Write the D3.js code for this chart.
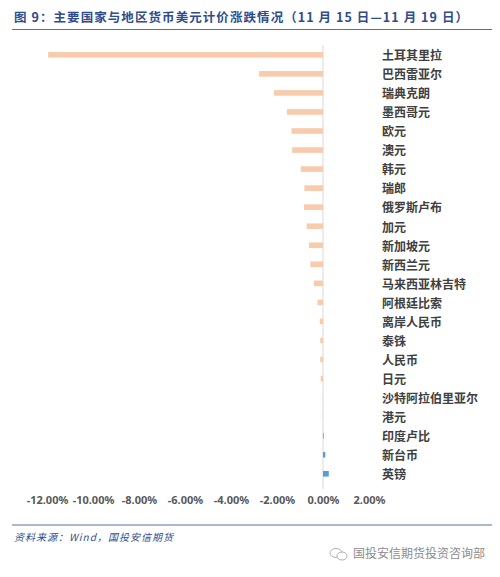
<!DOCTYPE html>
<html>
<head>
<meta charset="utf-8">
<script src="https://cdn.jsdelivr.net/npm/d3@7"></script>
<style>
    body { margin: 0; background: #fff; }
    svg { display: block; font-family: "Noto Sans CJK SC", "Noto Sans", sans-serif; }
</style>
</head>
<body>
<div class="E"></div>
<script>
// 币种（从上到下）
var currencies = ["土耳其里拉", "巴西雷亚尔", "瑞典克朗", "墨西哥元", "欧元", "澳元", "韩元", "瑞郎",
    "俄罗斯卢布", "加元", "新加坡元", "新西兰元", "马来西亚林吉特", "阿根廷比索", "离岸人民币",
    "泰铢", "人民币", "日元", "沙特阿拉伯里亚尔", "港元", "印度卢比", "新台币", "英镑"];
// 涨跌幅 %
var changes = [-11.95, -2.78, -2.13, -1.57, -1.37, -1.34, -0.97, -0.81,
    -0.83, -0.71, -0.61, -0.55, -0.40, -0.24, -0.14,
    -0.12, -0.12, -0.10, -0.01, -0.01, 0.03, 0.10, 0.25];
var tickValues = [-12, -10, -8, -6, -4, -2, 0, 2];

var width = 500, height = 577;
var svg = d3.select(".E").append("svg").attr("width", width).attr("height", height);

// 标题
svg.append("text").attr("x", 14).attr("y", 22)
    .attr("fill", "#2F4C8C").style("font-size", "12.5px").style("font-weight", "bold")
    .attr("textLength", 454).attr("lengthAdjust", "spacing")
    .text("图 9：主要国家与地区货币美元计价涨跌情况（11 月 15 日—11 月 19 日）");
svg.append("line").attr("x1", 12).attr("x2", 492).attr("y1", 29.5).attr("y2", 29.5)
    .attr("stroke", "#5A6E9E").attr("stroke-width", 1.2);

var x = d3.scaleLinear().domain([-12, 2]).range([47, 369]);
var y = d3.scaleBand().domain(currencies).range([45.3, 483.3]).paddingInner(0.7).paddingOuter(0.35);

// 零轴
svg.append("line").attr("x1", x(0)).attr("x2", x(0)).attr("y1", 45).attr("y2", 489)
    .attr("stroke", "#D9D9D9").attr("stroke-width", 1);

svg.selectAll(".bar").data(changes).enter().append("rect")
    .attr("class", "bar")
    .attr("x", function (d) { return x(Math.min(0, d)); })
    .attr("y", function (d, i) { return y(currencies[i]) + y.bandwidth() / 2 - 2.8; })
    .attr("width", function (d) { return Math.abs(x(d) - x(0)); })
    .attr("height", 5.6)
    .attr("fill", function (d) { return d < 0 ? "#F8CBAD" : "#5B9BD5"; });

// 类目标签
svg.selectAll(".lab").data(currencies).enter().append("text")
    .attr("class", "lab")
    .attr("x", 382)
    .attr("y", function (d) { return y(d) + y.bandwidth() / 2 + 1; })
    .attr("dy", "0.36em")
    .attr("fill", "#404040").style("font-size", "12px").style("font-weight", "bold")
    .text(function (d) { return d; });

// x 轴
var axis = svg.append("g").attr("transform", "translate(0,488)")
    .call(d3.axisBottom(x).tickValues(tickValues).tickSize(0).tickPadding(8)
        .tickFormat(function (d) { return d.toFixed(2) + "%"; }));
axis.select(".domain").remove();
axis.selectAll("text").attr("fill", "#595959").style("font-size", "11px").style("font-weight", "bold")
    .style("font-family", "\"Noto Sans\", sans-serif");

// 底部
svg.append("line").attr("x1", 12).attr("x2", 492).attr("y1", 525).attr("y2", 525)
    .attr("stroke", "#5A6E9E").attr("stroke-width", 1.2);
svg.append("text").attr("x", 14).attr("y", 541)
    .attr("fill", "#2F4C8C").style("font-size", "10px").style("font-style", "italic")
    .attr("textLength", 159).attr("lengthAdjust", "spacing")
    .text("资料来源：Wind，国投安信期货");

// 水印
var wm = svg.append("g").attr("transform", "translate(330,553)");
wm.append("ellipse").attr("cx", 6).attr("cy", 0).attr("rx", 6).attr("ry", 4.5)
    .attr("fill", "none").attr("stroke", "#B0B0B0").attr("stroke-width", 1);
wm.append("ellipse").attr("cx", 12).attr("cy", 3).attr("rx", 5).attr("ry", 4)
    .attr("fill", "#fff").attr("stroke", "#B0B0B0").attr("stroke-width", 1);
wm.append("text").attr("x", 23).attr("y", 5)
    .attr("fill", "#8C8C8C").style("font-size", "12px")
    .text("国投安信期货投资咨询部");
</script>
</body>
</html>
